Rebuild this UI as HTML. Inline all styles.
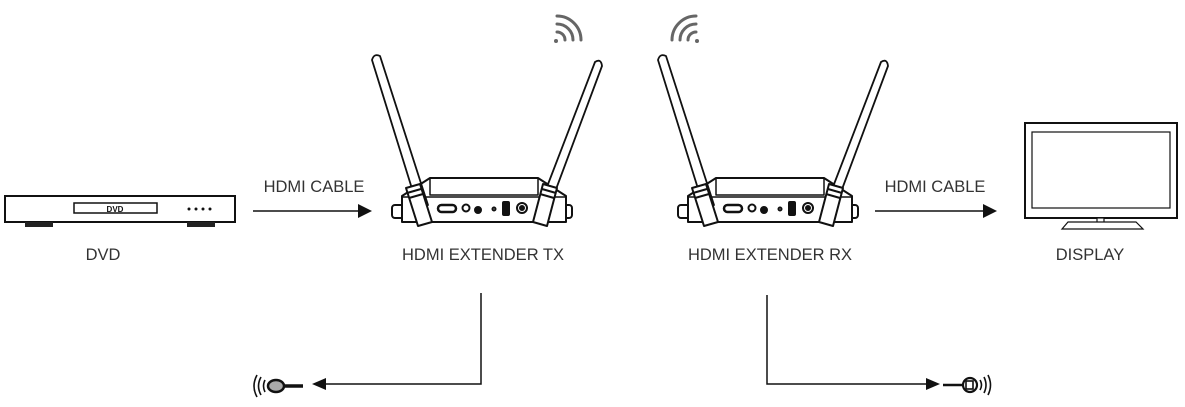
<!DOCTYPE html>
<html><head><meta charset="utf-8"><style>
html,body{margin:0;padding:0;background:#fff;}
svg{display:block;}
text{font-family:"Liberation Sans",sans-serif;fill:#333;font-size:16.5px;}
</style></head><body>
<svg width="1185" height="407" viewBox="0 0 1185 407" xmlns="http://www.w3.org/2000/svg">
<defs>
<g id="dev" fill="#fff" stroke="#111" stroke-width="2" stroke-linejoin="round">
  <rect x="392" y="205" width="13" height="13" rx="3"/>
  <rect x="559" y="205" width="13" height="13" rx="3"/>
  <path d="M402 196 L430 178 L538 178 L566 196 L566 222 L402 222 Z"/>
  <path d="M430 178 L430 195 L538 195 L538 178" fill="none" stroke-width="1.5"/>
  <line x1="402" y1="197" x2="566" y2="197" stroke-width="1.5"/>
  <rect x="438" y="205" width="18" height="7" rx="3.5" stroke-width="2.5"/>
  <circle cx="466" cy="208" r="3.5"/>
  <circle cx="478" cy="210" r="3" fill="#111"/>
  <circle cx="494" cy="209" r="1.5"/>
  <rect x="503" y="202" width="6" height="13" rx="1" fill="#111"/>
  <circle cx="522" cy="208" r="5"/><circle cx="522" cy="208" r="2" fill="#111"/>
  <path d="M372 60 Q374 53 380 56 L428 205 L418 208 Z" stroke-width="1.8"/>
  <path d="M406 188 L420 184 L432 222 L418 226 Z"/>
  <line x1="407" y1="193" x2="421" y2="189"/>
  <line x1="409" y1="198" x2="423" y2="194"/>
  <path d="M595 62 Q601 58 602 66 L549 208 L540 205 Z" stroke-width="1.8"/>
  <path d="M543 184 L557 188 L547 226 L533 222 Z"/>
  <line x1="542" y1="189" x2="556" y2="193"/>
  <line x1="540" y1="194" x2="554" y2="198"/>
</g>
</defs>

<g stroke="#111" fill="#fff">
  <rect x="5" y="196" width="230" height="26" stroke-width="2"/>
  <rect x="74" y="203" width="83" height="10" stroke-width="1.5"/>
  <rect x="25" y="222" width="28" height="5" fill="#222" stroke="none"/>
  <rect x="187" y="222" width="28" height="5" fill="#222" stroke="none"/>
</g>
<text x="115" y="212" text-anchor="middle" style="font-size:8px;font-weight:bold;fill:#111">DVD</text>
<g fill="#111"><circle cx="189" cy="209" r="1.5"/><circle cx="196" cy="209" r="1.5"/><circle cx="203" cy="209" r="1.5"/><circle cx="210" cy="209" r="1.5"/></g>

<use href="#dev"/>
<use href="#dev" transform="translate(286,0)"/>

<g stroke="#111" fill="#fff">
  <rect x="1025" y="123" width="152" height="95" stroke-width="2"/>
  <rect x="1032" y="132" width="138" height="76" stroke-width="1.2"/>
  <rect x="1097" y="218" width="7" height="5" stroke-width="1.2"/>
  <path d="M1068 222 L1136 222 L1143 229 L1062 229 Z" stroke-width="1.2"/>
</g>

<g stroke="#111" stroke-width="1.5"><line x1="253" y1="211" x2="360" y2="211"/><line x1="875" y1="211" x2="985" y2="211"/></g>
<polygon points="358,204 372,211 358,218" fill="#111"/>
<polygon points="983,204 997,211 983,218" fill="#111"/>
<text x="314" y="192" text-anchor="middle">HDMI CABLE</text>
<text x="935" y="192" text-anchor="middle">HDMI CABLE</text>

<text x="103" y="260" text-anchor="middle">DVD</text>
<text x="483" y="260" text-anchor="middle">HDMI EXTENDER TX</text>
<text x="770" y="260" text-anchor="middle">HDMI EXTENDER RX</text>
<text x="1090" y="260" text-anchor="middle">DISPLAY</text>

<g stroke="#111" stroke-width="1.5" fill="none">
  <polyline points="481,293 481,384 322,384"/>
  <polyline points="767,295 767,384 930,384"/>
</g>
<polygon points="326,378 312,384 326,390" fill="#111"/>
<polygon points="926,378 940,384 926,390" fill="#111"/>

<g stroke="#111" fill="none" stroke-width="1.6">
  <ellipse cx="276" cy="386" rx="8" ry="6" fill="#aaa" stroke-width="2.5"/>
  <line x1="284" y1="386" x2="303" y2="386" stroke-width="3.5"/>
  <path d="M265 380 Q262 386 265 392"/>
  <path d="M261 377 Q256 386 261 395"/>
  <path d="M257 375 Q251 386 257 397"/>
</g>
<g stroke="#111" fill="none" stroke-width="1.6">
  <line x1="943" y1="385" x2="963" y2="385" stroke-width="2.5"/>
  <circle cx="970" cy="385" r="7" fill="#fff" stroke-width="2.2"/>
  <rect x="966" y="381" width="7" height="8"/>
  <path d="M980 380 Q983 385 980 390"/>
  <path d="M984 377 Q988 385 984 393"/>
  <path d="M988 375 Q993 385 988 395"/>
</g>

<g stroke="#666" fill="none" stroke-width="3" stroke-linecap="round">
  <path d="M557 32 A8 8 0 0 1 565 40"/>
  <path d="M557 24 A16 16 0 0 1 573 40"/>
  <path d="M557 16 A24 24 0 0 1 581 40"/>
  <path d="M696 32 A8 8 0 0 0 688 40"/>
  <path d="M696 24 A16 16 0 0 0 680 40"/>
  <path d="M696 16 A24 24 0 0 0 672 40"/>
</g>
<circle cx="556" cy="41" r="2" fill="#666"/>
<circle cx="697" cy="41" r="2" fill="#666"/>
</svg>
</body></html>
